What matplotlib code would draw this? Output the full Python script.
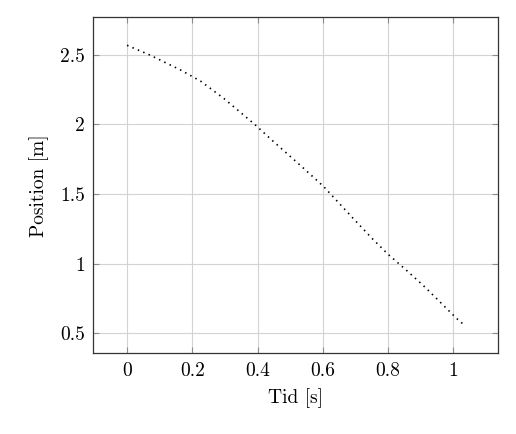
import matplotlib
matplotlib.use("Agg")
import matplotlib.pyplot as plt

plt.rcParams["font.family"] = "serif"
plt.rcParams["font.serif"] = ["cmr10", "DejaVu Serif"]
plt.rcParams["mathtext.fontset"] = "cm"
plt.rcParams["axes.formatter.use_mathtext"] = True

tid = [0.0, 0.0675, 0.164, 0.226, 0.297, 0.391, 0.445, 0.538, 0.603,
       0.688, 0.750, 0.800, 0.854, 0.907, 0.957, 1.008, 1.034]
position = [2.567, 2.500, 2.390, 2.309, 2.185, 2.000, 1.884, 1.691, 1.552,
            1.337, 1.183, 1.067, 0.957, 0.845, 0.730, 0.611, 0.558]

x_ticks = [0, 0.2, 0.4, 0.6, 0.8, 1.0]
x_tick_labels = ["0", "0.2", "0.4", "0.6", "0.8", "1"]
y_ticks = [0.5, 1.0, 1.5, 2.0, 2.5]
y_tick_labels = ["0.5", "1", "1.5", "2", "2.5"]

GRID_COLOR = "#d3d3d3"

fig = plt.figure(figsize=(5.16, 4.34), dpi=100)
ax = fig.add_axes([0.1808, 0.1859, 0.7849, 0.7742])

ax.plot(tid, position, color="black", linewidth=1.2,
        linestyle=(0, (0.9, 2.6)), zorder=3)

# pgfplots-like 10 % enlarged limits
xr = max(tid) - min(tid)
yr = max(position) - min(position)
ax.set_xlim(min(tid) - 0.1 * xr, max(tid) + 0.1 * xr)
ax.set_ylim(min(position) - 0.1 * yr, max(position) + 0.1 * yr)

ax.set_xticks(x_ticks)
ax.set_xticklabels(x_tick_labels)
ax.set_yticks(y_ticks)
ax.set_yticklabels(y_tick_labels)

ax.grid(True, color=GRID_COLOR, linewidth=0.8)
ax.set_axisbelow(True)
ax.tick_params(direction="in", length=4, width=0.8, color="#8c8c8c",
               top=True, right=True, labelsize=14, pad=6)
for spine in ax.spines.values():
    spine.set_edgecolor("#333333")
    spine.set_linewidth(0.9)

ax.set_xlabel("Tid [s]", fontsize=14, labelpad=6)
ax.set_ylabel("Position [m]", fontsize=14, labelpad=8)

fig.savefig("out.png", dpi=100)
